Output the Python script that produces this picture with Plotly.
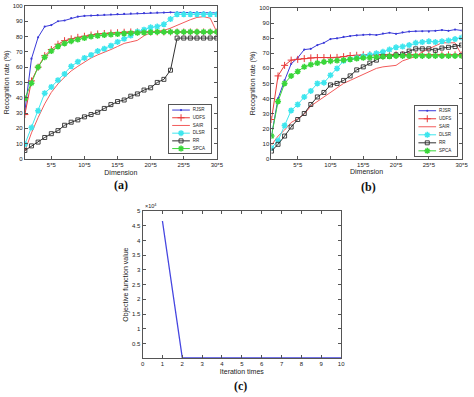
import plotly.graph_objects as go

W, H = 474, 397

DIM = list(range(1, 31))
XTICK_VALS = [5, 10, 15, 20, 25, 30]
XTICK_TEXT = ["5*5", "10*5", "15*5", "20*5", "25*5", "30*5"]
METHODS = ["RJSR", "UDFS", "SAIR", "DLSR", "RR", "SPCA"]

# panel (a)
RJSR_A = [31, 65.5, 79.5, 86.5, 87.5, 90, 90.5, 92, 93, 93.5, 93.7, 94, 94.2, 94.4, 94.6,
          94.8, 95, 95.2, 95.3, 95.5, 95.6, 95.7, 95.8, 95.8, 95.8, 95.8, 95.8, 95.8, 95.7, 95.5]
UDFS_A = [29, 51, 60, 67.5, 71.5, 75, 77.3, 78.5, 79.5, 80.2, 81, 81.7, 82, 82.3, 82.5,
          82.8, 83, 83, 83, 83, 83, 83, 83, 83, 83, 83, 83, 83, 83, 83]
SAIR_A = [5, 17, 27, 36, 43.5, 49, 53.5, 57.5, 60.5, 63.5, 66, 68, 69.5, 71.5, 73.5,
          75.5, 76.5, 77.5, 80.5, 82.5, 83.5, 84, 85.5, 87.5, 89, 91, 92.5, 93, 92, 83]
DLSR_A = [9.5, 20.5, 31.5, 43, 47, 51.5, 55.5, 60.5, 63.5, 66, 68, 70.5, 72, 74, 76.5,
          78.5, 80.6, 83.2, 84.5, 86, 86.5, 88, 91.4, 94.5, 94.5, 94.5, 94.5, 94.5, 94.5, 94.5]
RR_A = [5.5, 8.5, 11, 14, 16.5, 18.5, 22, 24, 25.5, 27.5, 29, 30.5, 33, 35.5, 37.5,
        38.5, 41, 42.5, 45, 46.5, 50, 52, 58, 79, 79, 79, 79, 79, 79, 79]
SPCA_A = [39.5, 49.5, 60, 66.5, 70.5, 73.5, 75.5, 77, 78, 79, 80, 80.5, 81, 81.3, 81.6,
          82, 82.2, 82.4, 82.6, 82.8, 83, 83, 83, 83, 83, 83, 83, 83, 83, 83]

# panel (b)
RJSR_B = [15, 40, 52, 63, 67, 72.5, 73, 75.5, 77, 79.5, 80, 81, 81.5, 82, 82.3,
          82.5, 82.2, 83.2, 83.7, 83, 84, 84.5, 84.7, 84.7, 84.5, 85, 85.5, 85, 85.8, 85.2]
UDFS_B = [26, 55, 62, 65.5, 66, 66.5, 67, 67.2, 67.2, 67, 67.3, 67.8, 68.5, 68.7, 69,
          69, 69, 69, 69, 69, 69, 69, 69, 69, 69, 69, 69, 69, 69, 69]
SAIR_B = [9, 15, 19, 24, 26.5, 29.5, 35, 38, 40.5, 44, 47, 50, 52, 54, 56,
          57.5, 60, 61, 61.5, 62, 65, 66.5, 68, 71, 73, 75, 77, 77, 77, 69]
DLSR_B = [7, 12, 22, 32, 36, 41, 45, 50, 50.5, 55.5, 60, 65, 66, 67, 68,
          69, 70, 71, 72.5, 74, 74.5, 75.5, 77, 77.5, 78, 77.5, 78, 78.5, 79.5, 80.5]
RR_B = [5, 9.5, 15, 21, 26, 30, 36, 41, 44, 49, 50, 52, 55, 59, 61,
        63.5, 65.5, 68, 68, 69, 69.5, 71.5, 73, 73, 73, 72, 73.5, 74, 74.5, 75.5]
SPCA_B = [15, 38, 50, 55, 58, 61, 62.5, 63.5, 64.3, 64.8, 65.2, 65.5, 66, 66.5, 67,
          67.2, 67.5, 67.8, 68, 68.3, 68.3, 68.3, 68.3, 68.3, 68.3, 68.3, 68.3, 68.3, 68.3, 68.3]

# panel (c)
ITER = list(range(1, 11))
OBJ = [46600, 150, 150, 150, 150, 150, 150, 150, 150, 150]
OBJ_TICKVALS = [5000, 10000, 15000, 20000, 25000, 30000, 35000, 40000, 45000, 50000]
OBJ_TICKTEXT = ["0.5", "1", "1.5", "2", "2.5", "3", "3.5", "4", "4.5", "5"]

DATA_A = [RJSR_A, UDFS_A, SAIR_A, DLSR_A, RR_A, SPCA_A]
DATA_B = [RJSR_B, UDFS_B, SAIR_B, DLSR_B, RR_B, SPCA_B]

COLORS = ["#3a3ad8", "#e83a3a", "#f25a5a", "#3ee6ee", "#303030", "#3ad63a"]
SYMBOLS = ["circle", "cross-thin", None, "asterisk", "square-open", "asterisk"]
MSIZES = [2.2, 5, 0, 5, 4, 5]
MLW = [0, 1, 0, 1.5, 0.9, 1.5]

FONT = "Liberation Sans, Arial, sans-serif"
AXCOL = "#555555"


def px_x(a, b):
    return [a / W, b / W]


def px_y(top, bottom):
    return [1 - bottom / H, 1 - top / H]


fig = go.Figure()


def add_series(data, xa, ya):
    for name, ys, col, sym, ms, lw in zip(METHODS, data, COLORS, SYMBOLS, MSIZES, MLW):
        if sym is None:
            fig.add_trace(go.Scatter(x=DIM, y=ys, mode="lines", name=name,
                                     line=dict(color=col, width=1), xaxis=xa, yaxis=ya,
                                     showlegend=False))
        else:
            fig.add_trace(go.Scatter(x=DIM, y=ys, mode="lines+markers", name=name,
                                     line=dict(color=col, width=1),
                                     marker=dict(symbol=sym, size=ms, color=col,
                                                 line=dict(color=col, width=lw)),
                                     xaxis=xa, yaxis=ya, showlegend=False))


def add_legend(xa, ya):
    n = len(METHODS)
    for i, (name, col, sym, ms, lw) in enumerate(zip(METHODS, COLORS, SYMBOLS, MSIZES, MLW)):
        yy = n - 1 - i
        fig.add_trace(go.Scatter(x=[3.5, 21.5], y=[yy, yy], mode="lines",
                                 line=dict(color=col, width=1), xaxis=xa, yaxis=ya,
                                 showlegend=False, hoverinfo="skip"))
        if sym is not None:
            fig.add_trace(go.Scatter(x=[12.5], y=[yy], mode="markers",
                                     marker=dict(symbol=sym, size=ms, color=col,
                                                 line=dict(color=col, width=lw)),
                                     xaxis=xa, yaxis=ya, showlegend=False, hoverinfo="skip"))
        fig.add_trace(go.Scatter(x=[24.5], y=[yy], mode="text", text=[name],
                                 textposition="middle right",
                                 textfont=dict(size=4.5, color="#222", family=FONT),
                                 xaxis=xa, yaxis=ya, showlegend=False, hoverinfo="skip"))


add_series(DATA_A, "x", "y")
add_series(DATA_B, "x2", "y2")
fig.add_trace(go.Scatter(x=ITER, y=OBJ, mode="lines", line=dict(color="#4646e0", width=1.3),
                         xaxis="x3", yaxis="y3", showlegend=False))
add_legend("x4", "y4")
add_legend("x5", "y5")

tickfont = dict(size=6, family=FONT, color="#222")
titlefont = dict(size=7, family=FONT, color="#222")

common_x = dict(showline=True, linecolor=AXCOL, linewidth=1, mirror="allticks",
                ticks="inside", ticklen=3, tickcolor=AXCOL, showgrid=False, zeroline=False,
                tickfont=tickfont)
common_y = dict(common_x)
legend_ax = dict(showline=True, linecolor=AXCOL, linewidth=1, mirror=True,
                 showticklabels=False, ticks="", showgrid=False, zeroline=False,
                 fixedrange=True)

fig.update_layout(
    width=W, height=H, margin=dict(l=0, r=0, t=0, b=0),
    paper_bgcolor="white", plot_bgcolor="white", showlegend=False,
    xaxis=dict(common_x, domain=px_x(23.3, 219), range=[1, 30], tickvals=XTICK_VALS,
               ticktext=XTICK_TEXT, anchor="y",
               title=dict(text="Dimension", font=titlefont, standoff=2)),
    yaxis=dict(common_y, domain=px_y(3, 158.3), range=[0, 100], dtick=10, anchor="x",
               title=dict(text="Recognition rate (%)", font=titlefont, standoff=2)),
    xaxis2=dict(common_x, domain=px_x(274.7, 468.5), range=[1, 30], tickvals=XTICK_VALS,
                ticktext=XTICK_TEXT, anchor="y2",
                title=dict(text="Dimension", font=titlefont, standoff=2)),
    yaxis2=dict(common_y, domain=px_y(5.3, 158), range=[0, 100], dtick=10, anchor="x2",
                title=dict(text="Recognition rate (%)", font=titlefont, standoff=2)),
    xaxis3=dict(common_x, domain=px_x(143.3, 345.7), range=[0, 10], dtick=1, anchor="y3",
                title=dict(text="Iteration times", font=titlefont, standoff=2)),
    yaxis3=dict(common_y, domain=px_y(211.2, 360.7), range=[0, 50000],
                tickvals=OBJ_TICKVALS, ticktext=OBJ_TICKTEXT, anchor="x3",
                title=dict(text="Objective function value", font=titlefont, standoff=2)),
    xaxis4=dict(legend_ax, domain=px_x(170, 213), range=[0, 43], anchor="y4"),
    yaxis4=dict(legend_ax, domain=px_y(104, 152.5), range=[-0.6, 5.6], anchor="x4"),
    xaxis5=dict(legend_ax, domain=px_x(421, 464), range=[0, 43], anchor="y5"),
    yaxis5=dict(legend_ax, domain=px_y(104.5, 155), range=[-0.6, 5.6], anchor="x5"),
)

panel_font = dict(size=12, family="Liberation Serif, Times New Roman, serif", color="#111")
for label, xc, yc in [("<b>(a)</b>", 121, 184.5), ("<b>(b)</b>", 373.5, 187), ("<b>(c)</b>", 243, 389)]:
    fig.add_annotation(text=label, x=xc / W, y=1 - yc / H, xref="paper", yref="paper",
                       showarrow=False, font=panel_font, xanchor="center", yanchor="middle")

fig.add_annotation(text="×10<sup>4</sup>", x=0, y=1, xref="x3 domain", yref="y3 domain",
                   xanchor="left", yanchor="bottom", showarrow=False,
                   font=dict(size=5.5, family=FONT, color="#222"))

fig.write_html("out.html", config={"displayModeBar": False},
               post_script="document.body.style.margin='0';document.body.style.overflow='hidden';")
